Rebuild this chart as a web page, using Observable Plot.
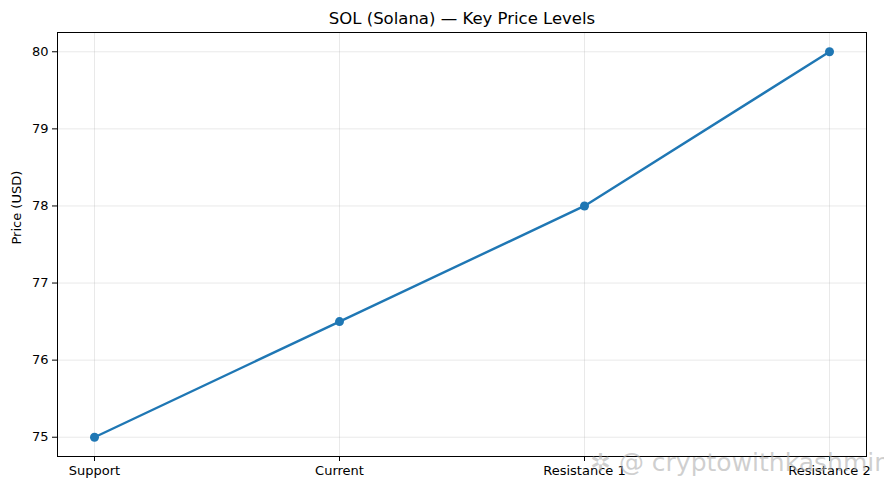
<!DOCTYPE html>
<html><head><meta charset="utf-8">
<script src="https://cdn.jsdelivr.net/npm/d3@7"></script>
<script src="https://cdn.jsdelivr.net/npm/@observablehq/plot@0.6"></script>
<style>
body{margin:0;background:#fff;font-family:"DejaVu Sans",sans-serif;}
#wrap{position:relative;width:884px;height:490px;overflow:hidden;}
#wm{position:absolute;left:590px;top:448px;font-size:25px;color:rgba(175,175,175,0.6);white-space:nowrap;font-family:"DejaVu Sans",sans-serif;}
</style></head>
<body><div id="wrap"><div id="wm">✲ @ cryptowithkashmina</div></div>
<script>
const levels = ["Support", "Current", "Resistance 1", "Resistance 2"];
const prices = [75, 76.5, 78, 80];
const yTicks = [75, 76, 77, 78, 79, 80];
const title = "SOL (Solana) — Key Price Levels";
const yLabel = "Price (USD)";

const data = levels.map((l, i) => ({level: l, price: prices[i]}));

const chart = Plot.plot({
  width: 884, height: 490,
  marginTop: 32, marginBottom: 34, marginLeft: 57, marginRight: 18,
  style: {fontFamily: "DejaVu Sans, sans-serif", fontSize: "13px", color: "#000", background: "#fff"},
  x: {type: "point", domain: levels, padding: 0.15, label: null},
  y: {domain: [74.75, 80.25], label: null},
  marks: [
    Plot.gridX(levels, {stroke: "#b0b0b0", strokeOpacity: 0.35, strokeWidth: 0.8}),
    Plot.gridY(yTicks, {stroke: "#b0b0b0", strokeOpacity: 0.35, strokeWidth: 0.8}),
    Plot.frame({stroke: "#000", strokeWidth: 1}),
    Plot.axisX({tickSize: 5, tickPadding: 4, fontSize: 13}),
    Plot.axisY(yTicks, {tickSize: 5, tickPadding: 4, fontSize: 13, tickFormat: d => String(d)}),
    Plot.line(data, {x: "level", y: "price", stroke: "#1f77b4", strokeWidth: 2.4}),
    Plot.dot(data, {x: "level", y: "price", fill: "#1f77b4", r: 4.5}),
    Plot.text([title], {frameAnchor: "top", lineAnchor: "middle", dy: -14, fontSize: 16.5, fill: "#000", text: d => d}),
    Plot.text([yLabel], {frameAnchor: "left", dx: -41, rotate: -90, fontSize: 13, fill: "#000", text: d => d})
  ]
});
document.getElementById("wrap").prepend(chart);
</script>
</body></html>
